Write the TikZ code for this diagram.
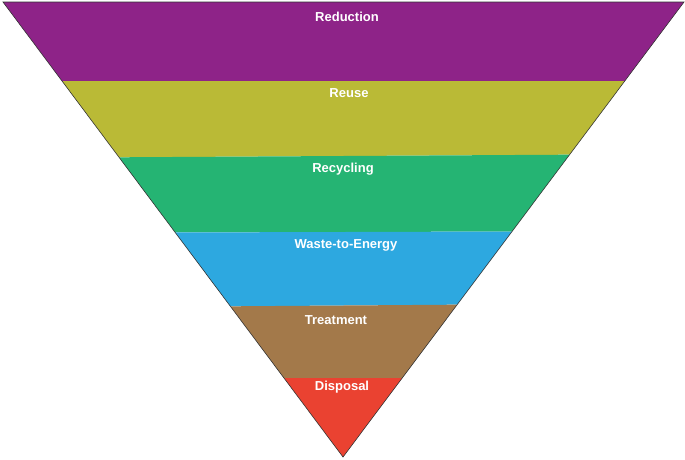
\documentclass[tikz,border=0pt]{standalone}
\usepackage{fontspec}
\setmainfont{Liberation Sans}
\begin{document}
\begin{tikzpicture}[x=1pt,y=-1pt,
  lbl/.style={text=white,font=\bfseries\fontsize{13}{15}\selectfont,inner sep=0pt}]
\definecolor{cA}{HTML}{8E2388}
\definecolor{cB}{HTML}{BABA36}
\definecolor{cC}{HTML}{25B473}
\definecolor{cD}{HTML}{2DA8E0}
\definecolor{cE}{HTML}{A3794A}
\definecolor{cF}{HTML}{EA4231}
\useasboundingbox (0,0) rectangle (685,459);
\coordinate (tl) at (3,2);
\coordinate (tr) at (684,2);
\coordinate (ap) at (343,457);
\begin{scope}
\clip (tl) -- (tr) -- (ap) -- cycle;
\fill[cA] (0,0) rectangle (685,81);
\fill[cB] (0,81) -- (685,81) -- (685,154) -- (0,158) -- cycle;
\fill[cC] (0,158) -- (685,154) -- (685,231) -- (0,233) -- cycle;
\fill[cD] (0,233) -- (685,231) -- (685,303) -- (0,308) -- cycle;
\fill[cE] (0,308) -- (685,303) -- (685,378) -- (0,378) -- cycle;
\fill[cF] (0,378) rectangle (685,459);
\end{scope}
\draw[line width=0.6pt,black!80] (tl) -- (tr) -- (ap) -- cycle;
\node[lbl] (n1) at (347,17) {Reduction};
\node[lbl] (n2) at (349,93) {Reuse};
\node[lbl] (n3) at (343,169) {Recycling};
\node[lbl] (n4) at (346,245) {Waste-to-Energy};
\node[lbl] (n5) at (336,320) {Treatment};
\node[lbl] (n6) at (342,387) {Disposal};
\end{tikzpicture}
\end{document}
